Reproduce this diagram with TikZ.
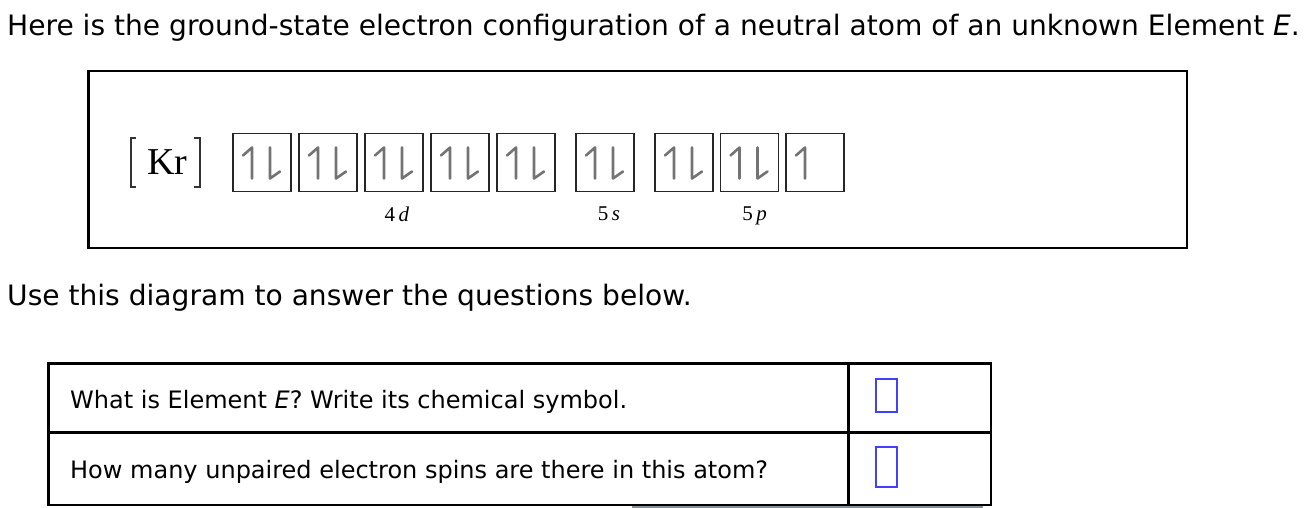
\documentclass[tikz,border=0pt]{standalone}
\usepackage{fontspec}
\setmainfont{DejaVu Sans}
\newfontfamily\chemserif{Liberation Serif}
\usetikzlibrary{positioning}

\definecolor{ansblue}{RGB}{64,64,255}
\definecolor{strip}{RGB}{128,146,158}

\tikzset{
  orb/.style={draw=black!85, line width=1.4pt, minimum size=58pt, inner sep=0pt, outer sep=0pt},
  spin/.style={draw=black!55, line width=2.6pt, line cap=round, line join=round},
  brk/.style={draw=black!80, line width=1.4pt},
  lbl/.style={font=\chemserif\fontsize{21}{24}\selectfont, inner sep=0pt},
  heading/.style={font=\fontsize{28.1}{33}\selectfont, anchor=base west, inner sep=0pt},
  qtext/.style={font=\fontsize{24}{28}\selectfont, anchor=base west, inner sep=0pt},
  ansbox/.style={draw=ansblue, line width=1.6pt, minimum width=21pt, inner sep=0pt},
  tbl/.style={line width=2.4pt},
}

\begin{document}
\begin{tikzpicture}[x=1pt,y=-1pt,node distance=8pt]
	\useasboundingbox (0,0) rectangle (1312,508);
	
	% Text
	\node[heading] (head) at (7,36) {Here is the ground-state electron configuration of a neutral atom of an unknown Element \textit{E}.};
	\node[heading] (use) at (7,305) {Use this diagram to answer the questions below.};
	
	% Rahmen
	\draw[line width=2.6pt] (88.5,71) rectangle (1187,248);
	
	% Kr
	\node[font=\chemserif\fontsize{38}{40}\selectfont, inner sep=0pt, anchor=base] (kr) at (167.5,175) {Kr};
	\draw[brk, shift={(166,162.5)}] (-30,-24.5) -- (-35,-24.5) -- (-35,24.5) -- (-30,24.5);
	\draw[brk, shift={(166,162.5)}] (28,-24.5) -- (34,-24.5) -- (34,24.5) -- (28,24.5);
	
	% Orbitale
	\node[orb] (d1) at (262,162.5) {};
	\node[orb, right=of d1] (d2) {};
	\node[orb, right=of d2] (d3) {};
	\node[orb, right=of d3] (d4) {};
	\node[orb, right=of d4] (d5) {};
	\node[orb, right=21pt of d5] (s1) {};
	\node[orb, right=21pt of s1] (p1) {};
	\node[orb, right=7.5pt of p1] (p2) {};
	\node[orb, right=7.5pt of p2] (p3) {};
	
	% Spins
	\foreach \b in {d1,d2,d3,d4,d5,s1,p1,p2}{
		\draw[spin, shift={(\b.center)}] (-19,-7) -- (-10,-15) -- (-10,16);
		\draw[spin, shift={(\b.center)}] (8,-15) -- (8,16) -- (18,9);
	}
	\draw[spin, shift={(p3.center)}] (-19,-7) -- (-10,-15) -- (-10,16);
	
	% Beschriftungen
	\node[lbl, below=15pt of d3, xshift=3pt] (l4d) {4\,\textit{d}};
	\node[lbl, below=15pt of s1, xshift=4pt] (l5s) {5\,\textit{s}};
	\node[lbl, below=15pt of p2, xshift=5pt] (l5p) {5\,\textit{p}};
	
	% Tabelle
	\draw[tbl] (48.5,363.5) rectangle (991,505);
	\draw[tbl] (48.5,432.5) -- (991,432.5);
	\draw[tbl] (848.5,363.5) -- (848.5,505);
	\node[qtext] (q1) at (70,408) {What is Element \textit{E}? Write its chemical symbol.};
	\node[qtext] (q2) at (70,478) {How many unpaired electron spins are there in this atom?};
	\node[ansbox, minimum height=33pt] (a1) at (886.5,395.5) {};
	\node[ansbox, minimum height=40pt] (a2) at (886.5,466.7) {};
	\fill[strip] (632,505.5) rectangle (983,508);
\end{tikzpicture}
\end{document}
